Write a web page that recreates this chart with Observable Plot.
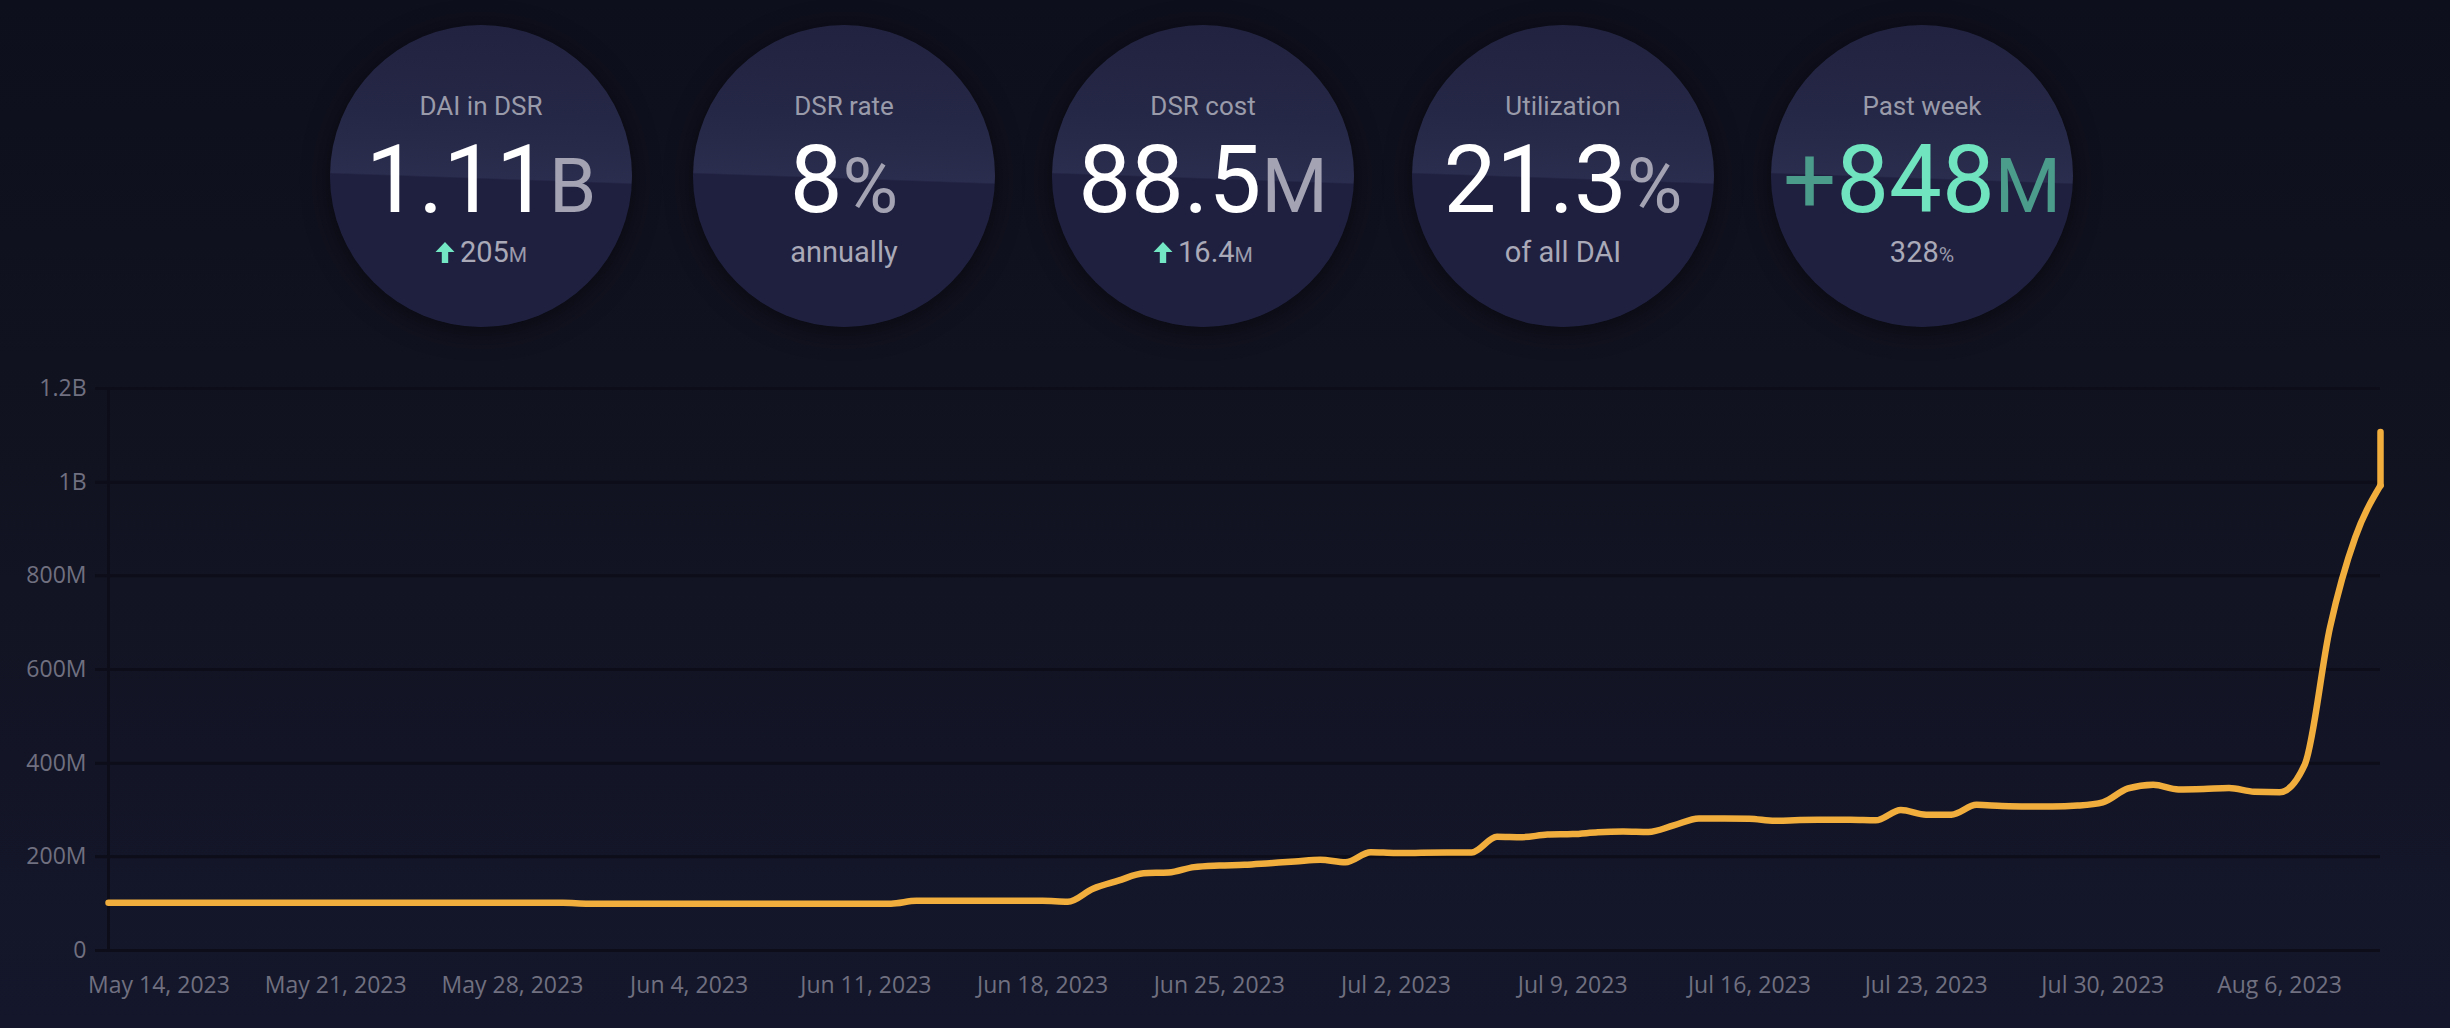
<!DOCTYPE html>
<html>
<head>
<meta charset="utf-8">
<script src="https://cdn.jsdelivr.net/npm/d3@7"></script>
<script src="https://cdn.jsdelivr.net/npm/@observablehq/plot@0.6"></script>
<style>
  html, body { margin: 0; padding: 0; }
  body {
    width: 2450px; height: 1028px; overflow: hidden; position: relative;
    background: linear-gradient(180deg, #0e0f1c 0%, #11121f 35%, #14172b 100%);
    font-family: "Open Sans", "Noto Sans", sans-serif;
  }
  .circle {
    position: absolute; top: 25px; width: 302px; height: 302px; border-radius: 50%;
    background: linear-gradient(182deg, #21223f 0%, #252746 30%, #2b2d4e 50.5%, #1f2040 51%, #1f2040 100%);
    box-shadow: 0 4px 26px rgba(0,0,0,0.5);
    color: #fff; text-align: center; font-family: Roboto, sans-serif;
  }
  .circle .lab { position: absolute; left: 0; right: 0; top: 66px; font-size: 26px; line-height: normal; color: #9a9baa; white-space: nowrap; }
  .circle .big { position: absolute; left: 0; right: 0; top: 100px; font-size: 94px; line-height: normal; color: #fff; white-space: nowrap; }
  .circle .big .suf { font-size: 76px; color: #a3a3b3; }
  .circle .sub { position: absolute; left: 0; right: 0; top: 210px; font-size: 29px; line-height: normal; color: #a9a9b8; white-space: nowrap; }
  .circle .sub .suf { font-size: 21px; color: #9a9aaa; }
  .arrow { display: inline-block; width: 20px; height: 21px; margin-right: 5px; vertical-align: -1px; }
  .green { color: #70e4bf !important; }
  .dimgreen { color: #4b9c8b !important; }
  #chart { position: absolute; left: 0; top: 360px; }
</style>
</head>
<body>
<div id="stats"></div>
<div id="chart"></div>
<script>
// ---- Data ----
const startDate = "2023-05-12";
const endDate = "2023-08-10";
// Daily DAI in DSR (millions), May 12 .. Aug 10, 2023
const daiInDsr = [
  102, 102, 102, 102, 102, 102, 102, 102, 102, 102,
  102, 102, 102, 102, 102, 102, 102, 102, 102,
  100, 100, 100, 100, 100, 100, 100, 100, 100, 100, 100, 100, 100,
  106, 106, 106, 106, 106, 106,
  104, 132, 149, 165, 166.5, 178, 181.5, 183, 186.5, 190,
  194, 188.5, 210, 208, 208.5, 209, 209.5, 243, 242, 247.5,
  248.5, 252.5, 254, 253, 267, 282, 282, 281.5, 277, 278.5,
  279, 279, 278, 300, 290, 290, 311, 308.5, 307.5, 307.5,
  309.5, 316.5, 346, 354, 344, 345, 347, 339, 338, 397,
  690, 882, 993
];
// Latest (intraday) value, same day as the last daily point
const latestValue = 1107;

const yTicks = [0, 200e6, 400e6, 600e6, 800e6, 1000e6, 1200e6];
const yTickLabels = ["0", "200M", "400M", "600M", "800M", "1B", "1.2B"];
const xTickDates = ["2023-05-14", "2023-05-21", "2023-05-28", "2023-06-04", "2023-06-11",
  "2023-06-18", "2023-06-25", "2023-07-02", "2023-07-09", "2023-07-16", "2023-07-23",
  "2023-07-30", "2023-08-06"];

// Stat circles
const statLabels = ["DAI in DSR", "DSR rate", "DSR cost", "Utilization", "Past week"];
const statValues = ["1.11", "8", "88.5", "21.3", "848"];
const statPrefixes = ["", "", "", "", "+"];
const statSuffixes = ["B", "%", "M", "%", "M"];
const statSubs = ["205", "annually", "16.4", "of all DAI", "328"];
const statSubSuffixes = ["M", "", "M", "", "%"];
const statSubArrow = [true, false, true, false, false];
const statLeft = [330, 693, 1052, 1412, 1771];

// ---- Stats ----
const arrowSvg = '<svg class="arrow" viewBox="0 0 20 21"><path d="M10 0 L19.5 10 L13.2 10 L13.2 21 L6.8 21 L6.8 10 L0.5 10 Z" fill="#73e6c3"/></svg>';
const stats = document.getElementById("stats");
statLabels.forEach((lab, i) => {
  const c = document.createElement("div");
  c.className = "circle";
  c.style.left = statLeft[i] + "px";
  const isWeek = i === 4;
  const pre = statPrefixes[i] ? `<span class="dimgreen">${statPrefixes[i]}</span>` : "";
  const subSuf = statSubSuffixes[i] ? `<span class="suf">${statSubSuffixes[i]}</span>` : "";
  c.innerHTML =
    `<div class="lab">${lab}</div>` +
    `<div class="big">${pre}<span class="${isWeek ? "green" : ""}">${statValues[i]}</span><span class="suf ${isWeek ? "dimgreen" : ""}">${statSuffixes[i]}</span></div>` +
    `<div class="sub">${statSubArrow[i] ? arrowSvg : ""}${statSubs[i]}${subSuf}</div>`;
  stats.appendChild(c);
});

// ---- Chart ----
const parse = d3.utcParse("%Y-%m-%d");
const start = parse(startDate), end = parse(endDate);
const days = d3.utcDay.range(start, d3.utcDay.offset(end, 1));
const data = days.map((d, i) => ({date: d, value: daiInDsr[i] * 1e6}));
const last = data[data.length - 1];
const finalSegment = [last, {date: last.date, value: latestValue * 1e6}];
const xTicks = xTickDates.map(parse);
const fmtX = d3.utcFormat("%b %-d, %Y");
const fmtY = v => yTickLabels[yTicks.indexOf(v)];
const grid = "#0c0d19";

const chart = Plot.plot({
  width: 2450,
  height: 668,
  marginTop: 28,
  marginBottom: 78,
  marginLeft: 108,
  marginRight: 70,
  style: {background: "transparent", color: "#707080", fontFamily: "'Open Sans', sans-serif", fontSize: "23px", overflow: "visible"},
  x: {type: "utc", domain: [start, end]},
  y: {domain: [0, 1.2e9]},
  marks: [
    Plot.ruleY(yTicks, {stroke: grid, strokeWidth: 3, insetLeft: -13}),
    Plot.ruleX([start], {y1: 0, y2: 1.2e9, stroke: grid, strokeWidth: 3}),
    Plot.axisY({ticks: yTicks, tickFormat: fmtY, tickSize: 0, tickPadding: 22, label: null, fill: "#707080"}),
    Plot.axisX({ticks: xTicks, tickFormat: fmtX, tickSize: 0, tickPadding: 26, label: null, fill: "#707080"}),
    Plot.line(data, {x: "date", y: "value", curve: "monotone-x", stroke: "#f2ae3d", strokeWidth: 6.5}),
    Plot.line(finalSegment, {x: "date", y: "value", stroke: "#f2ae3d", strokeWidth: 6.5})
  ]
});
document.getElementById("chart").appendChild(chart);
</script>
</body>
</html>
